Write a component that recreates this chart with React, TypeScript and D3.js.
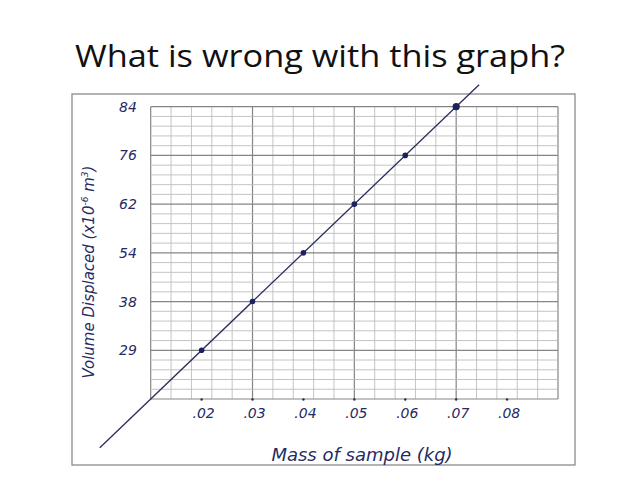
import React, { useEffect, useRef } from "react";
import * as d3 from "d3";

// Chart values
const title = "What is wrong with this graph?";
const massTicks = [0.02, 0.03, 0.04, 0.05, 0.06, 0.07, 0.08];
const massTickLabels = [".02", ".03", ".04", ".05", ".06", ".07", ".08"];
const volumeLabels = ["29", "38", "54", "62", "76", "84"];
const sampleMass = [0.02, 0.03, 0.04, 0.05, 0.06, 0.07];
const sampleVolume = ["29", "38", "54", "62", "76", "84"];
// hand drawn line, in (mass, label slot) coordinates
const fitMass = [0.0, 0.0745];
const fitSlot = [-1, 6.45];

const ink = "#262a63";

const App: React.FC = () => {
  const svgRef = useRef<SVGSVGElement | null>(null);

  useEffect(() => {
    const width = 638;
    const height = 479;
    const grid = { left: 150.7, right: 558, top: 106.7, bottom: 399 };

    const svg = d3.select(svgRef.current);
    svg.selectAll("*").remove();

    svg.append("rect").attr("width", width).attr("height", height).attr("fill", "white");

    // Title
    svg
      .append("text")
      .attr("x", 320)
      .attr("y", 67)
      .attr("text-anchor", "middle")
      .attr("textLength", 490)
      .attr("lengthAdjust", "spacingAndGlyphs")
      .style("font-family", "'Open Sans', 'Noto Sans', sans-serif")
      .style("font-size", "31px")
      .attr("fill", "#111")
      .text(title);

    // Paper border
    svg
      .append("rect")
      .attr("x", 72)
      .attr("y", 94)
      .attr("width", 503)
      .attr("height", 371)
      .attr("fill", "none")
      .attr("stroke", "#8a8a8a")
      .attr("stroke-width", 1.3);

    // Scales: x is mass, y is the (evenly spaced) label slot
    const xScale = d3.scaleLinear().domain([0.01, 0.09]).range([grid.left, grid.right]);
    const yScale = d3.scaleLinear().domain([0, 6]).range([grid.bottom, grid.top]);
    const slotOf = (label: string) => volumeLabels.indexOf(label) + 1;

    // Graph paper
    const paper = svg.append("g");
    const cols = d3.range(0, 21);
    const rows = d3.range(0, 31);
    paper
      .selectAll("line.col")
      .data(cols)
      .enter()
      .append("line")
      .attr("x1", (i) => xScale(0.01 + i * 0.004))
      .attr("x2", (i) => xScale(0.01 + i * 0.004))
      .attr("y1", grid.top)
      .attr("y2", grid.bottom)
      .attr("stroke", (i) => (i % 5 === 0 ? "#858585" : "#bdbdbd"))
      .attr("stroke-width", (i) => (i % 5 === 0 ? 1.2 : 0.9));
    paper
      .selectAll("line.row")
      .data(rows)
      .enter()
      .append("line")
      .attr("x1", grid.left)
      .attr("x2", grid.right)
      .attr("y1", (i) => yScale(i / 5))
      .attr("y2", (i) => yScale(i / 5))
      .attr("stroke", (i) => (i % 5 === 0 ? "#858585" : "#bdbdbd"))
      .attr("stroke-width", (i) => (i % 5 === 0 ? 1.2 : 0.9));

    const hand = "'DejaVu Sans', 'Noto Sans', sans-serif";

    // X tick dots and labels
    const xAxis = svg.append("g");
    xAxis
      .selectAll("circle")
      .data(massTicks)
      .enter()
      .append("circle")
      .attr("cx", (d) => xScale(d))
      .attr("cy", grid.bottom + 0.5)
      .attr("r", 1.2)
      .attr("fill", ink);
    xAxis
      .selectAll("text")
      .data(massTicks)
      .enter()
      .append("text")
      .attr("x", (d) => xScale(d) + 2)
      .attr("y", grid.bottom + 19)
      .attr("text-anchor", "middle")
      .style("font-family", hand)
      .style("font-style", "italic")
      .style("font-size", "14px")
      .attr("fill", ink)
      .text((d, i) => massTickLabels[i]);

    // Y labels
    svg
      .append("g")
      .selectAll("text")
      .data(volumeLabels)
      .enter()
      .append("text")
      .attr("x", 128)
      .attr("y", (d) => yScale(slotOf(d)) + 5)
      .attr("text-anchor", "middle")
      .style("font-family", hand)
      .style("font-style", "italic")
      .style("font-size", "14px")
      .attr("fill", ink)
      .text((d) => d);

    // Axis titles
    const yTitle = svg
      .append("text")
      .attr("transform", "translate(94, 272) rotate(-90)")
      .attr("text-anchor", "middle")
      .style("font-family", hand)
      .style("font-style", "italic")
      .style("font-size", "15px")
      .attr("fill", ink);
    yTitle.append("tspan").text("Volume Displaced (x10");
    yTitle.append("tspan").attr("dy", -6).style("font-size", "9px").text("-6");
    yTitle.append("tspan").attr("dy", 6).text(" m");
    yTitle.append("tspan").attr("dy", -6).style("font-size", "9px").text("3");
    yTitle.append("tspan").attr("dy", 6).text(")");

    svg
      .append("text")
      .attr("x", 362)
      .attr("y", 461)
      .attr("text-anchor", "middle")
      .style("font-family", hand)
      .style("font-style", "italic")
      .style("font-size", "18px")
      .attr("fill", ink)
      .text("Mass of sample (kg)");

    // Hand drawn line
    const fit = fitMass.map((m, i) => [xScale(m), yScale(fitSlot[i])] as [number, number]);
    svg
      .append("path")
      .attr("d", d3.line()(fit)!)
      .attr("fill", "none")
      .attr("stroke", "#2b2e5c")
      .attr("stroke-width", 1.3);

    // Data points
    svg
      .append("g")
      .selectAll("circle")
      .data(sampleMass)
      .enter()
      .append("circle")
      .attr("cx", (d) => xScale(d))
      .attr("cy", (d, i) => yScale(slotOf(sampleVolume[i])))
      .attr("r", (d, i) => (i === sampleMass.length - 1 ? 3.6 : 2.8))
      .attr("fill", "#1d2160");
  }, []);

  return (
    <svg
      ref={svgRef}
      width={638}
      height={479}
      style={{ position: "fixed", left: 0, top: 0 }}
    />
  );
};

export default App;
